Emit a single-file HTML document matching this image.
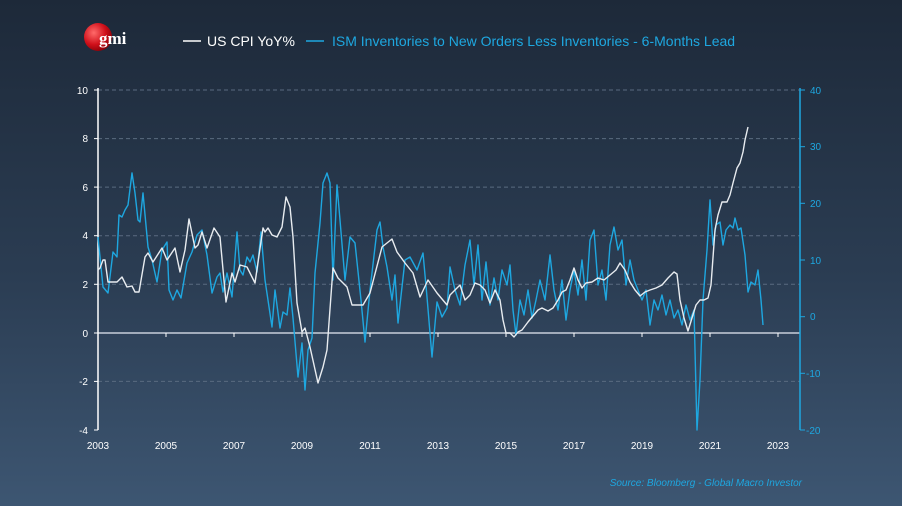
<!DOCTYPE html>
<html><head><meta charset="utf-8"><style>
html,body{margin:0;padding:0}
body{width:902px;height:506px;overflow:hidden;background:linear-gradient(#1d2939,#2b3d53 55%,#3d5672);font-family:"Liberation Sans",sans-serif}
svg{display:block}
</style></head><body>
<svg width="902" height="506" viewBox="0 0 902 506" xmlns="http://www.w3.org/2000/svg">
<defs><radialGradient id="g" cx="0.35" cy="0.35" r="0.7"><stop offset="0" stop-color="#ff6a6a"/><stop offset="0.6" stop-color="#d0101a"/><stop offset="1" stop-color="#8a0008"/></radialGradient></defs>
<circle cx="98" cy="37" r="14" fill="url(#g)"/>
<text x="99" y="44" font-family="Liberation Serif,serif" font-weight="bold" font-size="17" fill="#fff">gmi</text>
<line x1="183" y1="41" x2="201" y2="41" stroke="#fff" stroke-width="1.5"/>
<text x="207" y="46" font-size="14" fill="#fff">US CPI YoY%</text>
<line x1="306" y1="41" x2="324" y2="41" stroke="#1ea7e0" stroke-width="1.5"/>
<text x="332" y="46" font-size="14" fill="#1ea7e0">ISM Inventories to New Orders Less Inventories - 6-Months Lead</text>
<g stroke="#5a6b80" stroke-dasharray="4,3" stroke-width="1">
<line x1="98" y1="90" x2="800" y2="90"/><line x1="98" y1="138.6" x2="800" y2="138.6"/><line x1="98" y1="187.1" x2="800" y2="187.1"/><line x1="98" y1="235.7" x2="800" y2="235.7"/><line x1="98" y1="284.3" x2="800" y2="284.3"/><line x1="98" y1="381.4" x2="800" y2="381.4"/>
</g>
<line x1="98" y1="333" x2="800" y2="333" stroke="#c8d0da" stroke-width="1.5"/>
<line x1="98" y1="88" x2="98" y2="430" stroke="#fff" stroke-width="1.5"/>
<line x1="800" y1="88" x2="800" y2="430" stroke="#1ea7e0" stroke-width="1.5"/>
<g stroke="#fff" stroke-width="1"><line x1="94" y1="90" x2="98" y2="90"/><line x1="94" y1="138.6" x2="98" y2="138.6"/><line x1="94" y1="187.1" x2="98" y2="187.1"/><line x1="94" y1="235.7" x2="98" y2="235.7"/><line x1="94" y1="284.3" x2="98" y2="284.3"/><line x1="94" y1="333" x2="98" y2="333"/><line x1="94" y1="381.4" x2="98" y2="381.4"/><line x1="94" y1="430" x2="98" y2="430"/>
<line x1="166" y1="333" x2="166" y2="337"/><line x1="234" y1="333" x2="234" y2="337"/><line x1="302" y1="333" x2="302" y2="337"/><line x1="370" y1="333" x2="370" y2="337"/><line x1="438" y1="333" x2="438" y2="337"/><line x1="506" y1="333" x2="506" y2="337"/><line x1="574" y1="333" x2="574" y2="337"/><line x1="642" y1="333" x2="642" y2="337"/><line x1="710" y1="333" x2="710" y2="337"/><line x1="778" y1="333" x2="778" y2="337"/></g>
<g stroke="#1ea7e0"><line x1="800" y1="90" x2="805" y2="90"/><line x1="800" y1="146.7" x2="805" y2="146.7"/><line x1="800" y1="203.3" x2="805" y2="203.3"/><line x1="800" y1="260" x2="805" y2="260"/><line x1="800" y1="316.7" x2="805" y2="316.7"/><line x1="800" y1="373.3" x2="805" y2="373.3"/><line x1="800" y1="430" x2="805" y2="430"/></g>
<g font-size="10" fill="#fff" text-anchor="end"><text x="88" y="94">10</text><text x="88" y="142">8</text><text x="88" y="191">6</text><text x="88" y="239">4</text><text x="88" y="288">2</text><text x="88" y="337">0</text><text x="88" y="385">-2</text><text x="88" y="434">-4</text></g>
<g font-size="10" fill="#1ea7e0"><text x="810" y="94">40</text><text x="810" y="150">30</text><text x="810" y="207">20</text><text x="810" y="264">10</text><text x="810" y="320">0</text><text x="806" y="377">-10</text><text x="806" y="434">-20</text></g>
<g font-size="10" fill="#fff" text-anchor="middle"><text x="98" y="449">2003</text><text x="166" y="449">2005</text><text x="234" y="449">2007</text><text x="302" y="449">2009</text><text x="370" y="449">2011</text><text x="438" y="449">2013</text><text x="506" y="449">2015</text><text x="574" y="449">2017</text><text x="642" y="449">2019</text><text x="710" y="449">2021</text><text x="778" y="449">2023</text></g>
<text x="802" y="486" font-size="10" font-style="italic" fill="#1ea7e0" text-anchor="end">Source: Bloomberg - Global Macro Investor</text>
<polyline fill="none" stroke="#1ea7e0" stroke-width="1.4" stroke-linejoin="round" points="98,237 103,287 108,293 113,252 117,257 119,215 122,217 125,210 128,205 132,173 135,193 138,220 140,222 143,193 148,247 152,260 157,282 162,250 167,242 169,290 173,300 177,290 181,298 187,263 192,252 197,235 202,230 207,255 212,293 217,277 220,273 223,292 227,273 232,297 237,232 240,270 243,275 247,257 250,262 253,255 257,272 261,232 265,280 272,327 275,290 280,328 283,312 287,315 290,288 293,318 298,377 302,343 305,390 308,350 312,338 315,273 320,223 323,183 327,173 330,183 333,280 337,185 340,220 345,280 350,237 355,243 361,300 365,342 370,290 377,230 380,222 383,247 387,267 392,300 395,275 398,323 405,260 410,257 417,270 423,253 427,297 432,357 437,302 442,317 447,308 450,267 455,290 460,305 465,265 470,240 474,285 478,245 482,300 486,262 490,305 494,278 498,300 502,270 507,285 510,265 513,310 516,335 520,300 524,315 528,290 532,318 536,300 540,280 545,300 550,255 554,290 558,310 562,280 566,320 570,290 574,270 578,295 582,260 586,300 590,240 594,230 598,285 602,270 606,300 610,245 614,227 618,250 622,240 626,285 630,260 634,280 638,290 642,300 646,290 650,325 654,300 658,310 662,295 666,315 670,300 674,318 678,310 682,325 686,305 690,320 694,310 697,430 700,380 703,300 707,250 710,200 713,245 716,225 720,222 723,245 726,230 730,225 733,228 735,218 738,230 741,228 745,255 748,292 751,282 755,285 758,270 761,300 763,325"/>
<polyline fill="none" stroke="#e8ecf0" stroke-width="1.4" stroke-linejoin="round" points="98,270 100,268 103,260 105,260 108,282 117,282 122,277 127,287 132,286 135,292 139,292 145,257 148,253 153,262 162,248 167,260 175,248 180,272 185,250 189,219 195,248 198,245 202,232 207,248 214,228 220,237 226,302 232,273 235,282 240,265 247,267 255,283 263,228 265,232 268,228 272,235 277,237 282,227 286,197 290,207 293,237 297,303 302,332 305,328 310,347 318,383 323,367 327,350 333,268 338,278 347,287 352,305 363,305 370,293 382,247 392,239 397,252 405,263 413,273 420,297 428,280 437,293 447,305 450,295 455,290 460,285 465,300 470,295 475,283 480,285 485,290 490,303 495,290 500,300 503,320 506,333 510,333 514,337 518,332 522,330 528,322 533,316 538,310 542,308 548,311 553,308 558,300 562,292 566,290 570,280 574,268 578,280 582,288 586,283 592,282 598,278 604,280 610,275 616,270 620,263 625,270 630,282 635,290 640,296 645,292 650,290 656,288 662,285 668,278 674,272 677,274 680,300 684,318 688,331 692,318 696,305 700,300 704,300 708,298 711,285 715,230 718,215 722,202 727,202 730,195 733,183 737,168 740,163 743,152 745,140 748,127"/>
</svg>
</body></html>
